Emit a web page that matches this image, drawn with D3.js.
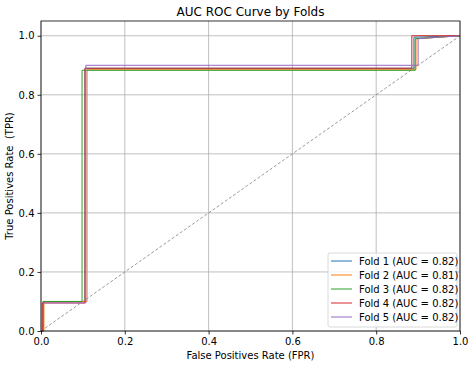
<!DOCTYPE html>
<html>
<head>
<meta charset="utf-8">
<script src="https://cdn.jsdelivr.net/npm/d3@7"></script>
<style>
  body { margin: 0; background: #fff; }
  svg { font-family: "DejaVu Sans", sans-serif; }
</style>
</head>
<body>
<svg id="chart" width="474" height="367"></svg>
<script>
// Fold ROC points
const foldNames = ["Fold 1", "Fold 2", "Fold 3", "Fold 4", "Fold 5"];
const foldAuc = [0.82, 0.81, 0.82, 0.82, 0.82];
const foldColors = ["#1f77b4", "#ff7f0e", "#2ca02c", "#d62728", "#9467bd"];
const fprFolds = [
    [0, 0.005, 0.005, 0.105, 0.105, 0.89, 0.89, 1],
    [0, 0.007, 0.007, 0.11, 0.11, 0.895, 0.895, 1],
    [0, 0.005, 0.005, 0.098, 0.098, 0.893, 0.893, 1],
    [0, 0.003, 0.003, 0.105, 0.105, 0.885, 0.885, 1],
    [0, 0.006, 0.006, 0.107, 0.107, 0.9, 0.9, 1]
];
const tprFolds = [
    [0, 0, 0.1, 0.1, 0.89, 0.89, 0.995, 1],
    [0, 0, 0.1, 0.1, 0.885, 0.885, 0.99, 1],
    [0, 0, 0.1, 0.1, 0.883, 0.883, 0.99, 1],
    [0, 0, 0.095, 0.095, 0.89, 0.89, 1.0, 1],
    [0, 0, 0.095, 0.095, 0.9, 0.9, 0.99, 1]
];
const tickValues = [0, 0.2, 0.4, 0.6, 0.8, 1.0];

const margin = {left: 41, right: 14, top: 21, bottom: 36};
const width = 474, height = 367;

const svg = d3.select("#chart");

const x = d3.scaleLinear().domain([0, 1]).range([margin.left, width - margin.right]);
const y = d3.scaleLinear().domain([0, 1.05]).range([height - margin.bottom, margin.top]);

// grid
const grid = svg.append("g").attr("stroke", "#b0b0b0").attr("stroke-width", 0.8);
grid.selectAll(".gx").data(tickValues).join("line")
    .attr("x1", d => x(d)).attr("x2", d => x(d))
    .attr("y1", y(0)).attr("y2", y(1.05));
grid.selectAll(".gy").data(tickValues).join("line")
    .attr("y1", d => y(d)).attr("y2", d => y(d))
    .attr("x1", x(0)).attr("x2", x(1));

// diagonal
svg.append("line")
    .attr("x1", x(0)).attr("y1", y(0))
    .attr("x2", x(1)).attr("y2", y(1))
    .attr("stroke", "#808080")
    .attr("stroke-width", 0.8)
    .attr("stroke-dasharray", "3,2");

// curves
const line = d3.line().x(d => x(d[0])).y(d => y(d[1]));
foldNames.forEach((name, i) => {
    const pts = fprFolds[i].map((f, j) => [f, tprFolds[i][j]]);
    svg.append("path")
        .datum(pts)
        .attr("fill", "none")
        .attr("stroke", foldColors[i])
        .attr("stroke-width", 1)
        .attr("d", line);
});

// axes
const xAxis = d3.axisBottom(x).tickValues(tickValues).tickFormat(d3.format(".1f")).tickSize(3.5).tickPadding(3);
const yAxis = d3.axisLeft(y).tickValues(tickValues).tickFormat(d3.format(".1f")).tickSize(3.5).tickPadding(3);

const gx = svg.append("g").attr("transform", `translate(0,${y(0)})`).call(xAxis);
const gy = svg.append("g").attr("transform", `translate(${x(0)},0)`).call(yAxis);
[gx, gy].forEach(g => {
    g.select(".domain").remove();
    g.selectAll("text").attr("font-size", 10).attr("fill", "#000")
        .attr("font-family", "DejaVu Sans, sans-serif");
    g.selectAll(".tick line").attr("stroke", "#000").attr("stroke-width", 0.8);
});

// frame
svg.append("rect")
    .attr("x", x(0)).attr("y", y(1.05))
    .attr("width", x(1) - x(0)).attr("height", y(0) - y(1.05))
    .attr("fill", "none").attr("stroke", "#000").attr("stroke-width", 0.8);

// title & labels
svg.append("text")
    .attr("x", (x(0) + x(1)) / 2).attr("y", 15.5)
    .attr("text-anchor", "middle").attr("font-size", 12)
    .text("AUC ROC Curve by Folds");
svg.append("text")
    .attr("x", (x(0) + x(1)) / 2).attr("y", 359)
    .attr("text-anchor", "middle").attr("font-size", 10)
    .text("False Positives Rate (FPR)");
svg.append("text")
    .attr("transform", `translate(13,${(y(0) + y(1.05)) / 2}) rotate(-90)`)
    .attr("text-anchor", "middle").attr("font-size", 10)
    .attr("xml:space", "preserve")
    .style("white-space", "pre")
    .text("True Positives Rate  (TPR)");

// legend
const lg = svg.append("g");
lg.append("rect")
    .attr("x", 328).attr("y", 253)
    .attr("width", 129).attr("height", 74)
    .attr("rx", 2)
    .attr("fill", "#fff").attr("fill-opacity", 0.8)
    .attr("stroke", "#d0d0d0").attr("stroke-width", 0.8);
const items = lg.selectAll(".item").data(foldNames).join("g")
    .attr("transform", (d, i) => `translate(0,${261 + i * 14})`);
items.append("line")
    .attr("x1", 331).attr("x2", 352)
    .attr("stroke", (d, i) => foldColors[i]).attr("stroke-width", 1);
items.append("text")
    .attr("x", 359).attr("y", 3.5)
    .attr("font-size", 10)
    .text((d, i) => `${d} (AUC = ${foldAuc[i].toFixed(2)})`);
</script>
</body>
</html>
